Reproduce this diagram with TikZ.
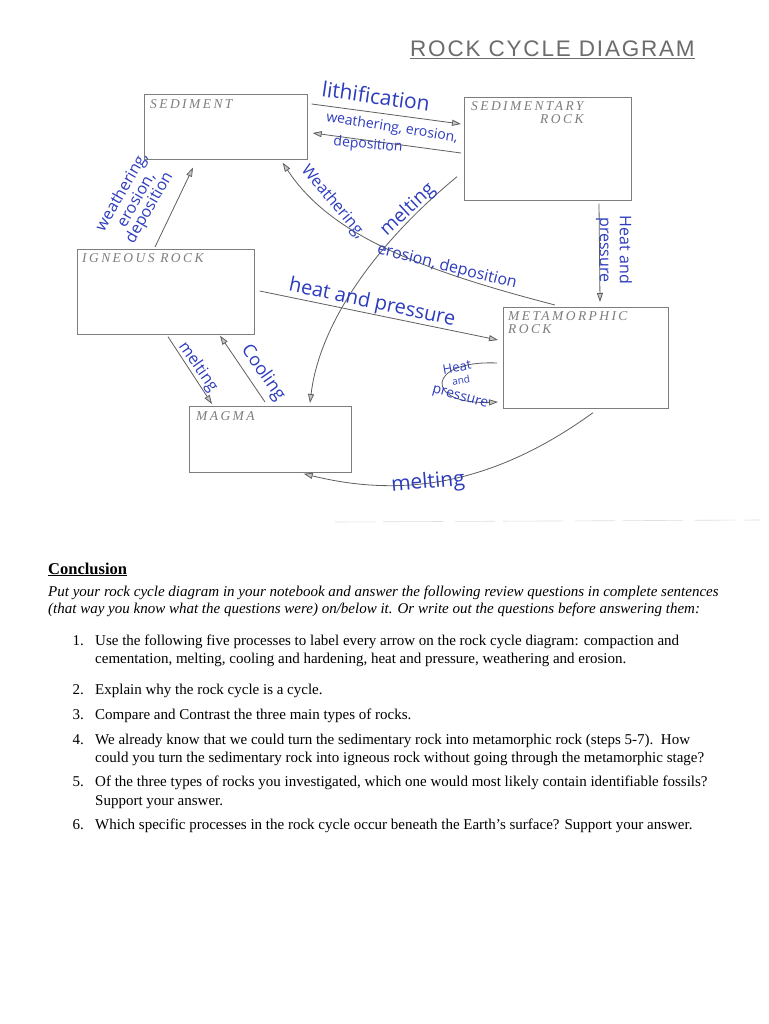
\documentclass[tikz,border=0pt]{standalone}
\usepackage{fontspec}
\setmainfont{Liberation Serif}
\newfontfamily\titlefont[LetterSpace=8]{Liberation Sans}
\newfontfamily\boxfont[LetterSpace=18]{Liberation Serif}
\newfontfamily\hand{Open Sans}
\usetikzlibrary{arrows.meta}
\definecolor{ink}{RGB}{45,60,190}
\definecolor{pencil}{RGB}{95,95,95}
\definecolor{boxgray}{RGB}{125,125,125}
\begin{document}
\begin{tikzpicture}[x=1pt,y=-1pt,
 rbox/.style={draw=boxgray,line width=0.7pt,inner sep=0pt,anchor=north west},
 boxlbl/.style={text=boxgray,font=\boxfont\itshape\fontsize{13.5}{13}\selectfont,inner sep=0pt,anchor=north west,align=left},
 conn/.style={draw=pencil,line width=0.8pt,-{Triangle[length=9pt,width=6pt,fill=gray!45]}},
 hw/.style={text=ink,inner sep=0pt,align=center},
 body/.style={font=\fontsize{15}{18}\selectfont,inner sep=0pt,anchor=base west},
 num/.style={font=\fontsize{15}{18}\selectfont,inner sep=0pt,anchor=base east},
]
\useasboundingbox[fill=white] (0,0) rectangle (768,1024);

% title
\node[inner sep=0pt,anchor=base west,text=gray!85!black,font=\titlefont\fontsize{22.5}{22}\selectfont] (title) at (410,57) {ROCK CYCLE DIAGRAM};
\draw[gray!85!black,line width=0.8pt] (title.south west) ++(0,1) coordinate (tl) -- (tl -| title.south east);

% boxes
\node[rbox,minimum width=163pt,minimum height=65pt] (sed) at (144,94) {};
\node[rbox,minimum width=167pt,minimum height=103pt] (sedr) at (464,97) {};
\node[rbox,minimum width=177pt,minimum height=85pt] (ign) at (77,249) {};
\node[rbox,minimum width=165pt,minimum height=101pt] (meta) at (503,307) {};
\node[rbox,minimum width=162pt,minimum height=66pt] (mag) at (189,406) {};

\node[boxlbl] (sedl) at (150,99) {SEDIMENT};
\node[boxlbl,align=right] (sedrl) at (471,101) {SEDIMENTARY\\ROCK};
\node[boxlbl] (ignl) at (82,253) {IGNEOUS ROCK};
\node[boxlbl] (metal) at (508,311) {METAMORPHIC\\ROCK};
\node[boxlbl] (magl) at (196,411) {MAGMA};

% connectors
\draw[conn] ([shift={(4,10)}]sed.north east) -- ([shift={(-3,27)}]sedr.north west);
\draw[conn] ([shift={(-3,56)}]sedr.north west) -- ([shift={(5,39)}]sed.north east);
\draw[conn] ([shift={(78,-2)}]ign.north west) -- ([shift={(49,8)}]sed.south west);
\draw[conn] ([shift={(52,-2)}]meta.north west) .. controls (420,270) and (330,235) .. ([shift={(-25,3)}]sed.south east);
\draw[conn] ([shift={(-7,-24)}]sedr.south west) .. controls (380,240) and (320,320) .. ([shift={(121,-3)}]mag.north west);
\draw[conn] ([shift={(5,42)}]ign.north east) -- ([shift={(-5,33)}]meta.north west);
\draw[conn] ([shift={(135,3)}]sedr.south west) -- ([shift={(97,-5)}]meta.north west);
\draw[conn] ([shift={(91,2)}]ign.south west) -- ([shift={(23,-2)}]mag.north west);
\draw[conn] ([shift={(76,-4)}]mag.north west) -- ([shift={(143,1)}]ign.south west);
\draw[conn] ([shift={(-6,56)}]meta.north west) .. controls (425,360) and (425,405) .. ([shift={(-5,95)}]meta.north west);
\draw[conn] ([shift={(90,4)}]meta.south west) .. controls (500,480) and (410,500) .. ([shift={(-48,1)}]mag.south east);

% handwritten labels
\node[hw,font=\hand\fontsize{21}{21}\selectfont,rotate=-8] (h1) at (376,96) {lithification};
\node[hw,font=\hand\fontsize{14}{14}\selectfont,rotate=-9] (h2) at (392,128) {weathering, erosion,};
\node[hw,font=\hand\fontsize{14}{14}\selectfont,rotate=-5] (h3) at (368,145) {deposition};
\node[hw,font=\hand\fontsize{16}{15}\selectfont,rotate=60] (h4) at (136,200) {weathering,\\erosion,\\deposition};
\node[hw,font=\hand\fontsize{16}{16}\selectfont,rotate=-50] (h5) at (333,202) {Weathering,};
\node[hw,font=\hand\fontsize{16}{16}\selectfont,rotate=-14] (h6) at (447,267) {erosion, deposition};
\node[hw,font=\hand\fontsize{19}{19}\selectfont,rotate=43] (h7) at (408,210) {melting};
\node[hw,font=\hand\fontsize{20}{20}\selectfont,rotate=-12] (h8) at (372,303) {heat and pressure};
\node[hw,font=\hand\fontsize{16}{20}\selectfont,rotate=-90] (h9) at (614,250) {Heat and\\pressure};
\node[hw,font=\hand\fontsize{16}{16}\selectfont,rotate=-55] (h10) at (198,367) {melting};
\node[hw,font=\hand\fontsize{18}{18}\selectfont,rotate=-55] (h11) at (263,373) {Cooling};
\node[hw,font=\hand\fontsize{13}{13}\selectfont,rotate=10] (h12) at (457,367) {Heat};
\node[hw,font=\hand\fontsize{10}{10}\selectfont,rotate=10] (h13) at (461,380) {and};
\node[hw,font=\hand\fontsize{14}{14}\selectfont,rotate=-15] (h14) at (460,398) {pressure};
\node[hw,font=\hand\fontsize{21}{21}\selectfont,rotate=5] (h15) at (428,483) {melting};

% faint bleed-through line
\draw[gray!25,line width=0.6pt,dash pattern=on 40pt off 8pt on 60pt off 12pt] (335,522) -- (760,520);

% conclusion
\node[inner sep=0pt,anchor=base west,font=\bfseries\fontsize{16.5}{18}\selectfont] (conc) at (48,574) {\underline{Conclusion}};
\node[body,font=\itshape\fontsize{15}{18}\selectfont] (p1) at (48,596) {Put your rock cycle diagram in your notebook and answer the following review questions in complete sentences};
\node[body,font=\itshape\fontsize{15}{18}\selectfont] (p2) at (48,613) {(that way you know what the questions were) on/below it. Or write out the questions before answering them:};

\node[num] (n1) at (84,645) {1.};
\node[body] (q1a) at (95,645) {Use the following five processes to label every arrow on the rock cycle diagram: compaction and};
\node[body] (q1b) at (95,663) {cementation, melting, cooling and hardening, heat and pressure, weathering and erosion.};
\node[num] (n2) at (84,694) {2.};
\node[body] (q2) at (95,694) {Explain why the rock cycle is a cycle.};
\node[num] (n3) at (84,719) {3.};
\node[body] (q3) at (95,719) {Compare and Contrast the three main types of rocks.};
\node[num] (n4) at (84,744) {4.};
\node[body] (q4a) at (95,744) {We already know that we could turn the sedimentary rock into metamorphic rock (steps 5-7).\ \ How};
\node[body] (q4b) at (95,762) {could you turn the sedimentary rock into igneous rock without going through the metamorphic stage?};
\node[num] (n5) at (84,786) {5.};
\node[body] (q5a) at (95,786) {Of the three types of rocks you investigated, which one would most likely contain identifiable fossils?};
\node[body] (q5b) at (95,805) {Support your answer.};
\node[num] (n6) at (84,829) {6.};
\node[body] (q6) at (95,829) {Which specific processes in the rock cycle occur beneath the Earth's surface? Support your answer.};
\end{tikzpicture}
\end{document}
